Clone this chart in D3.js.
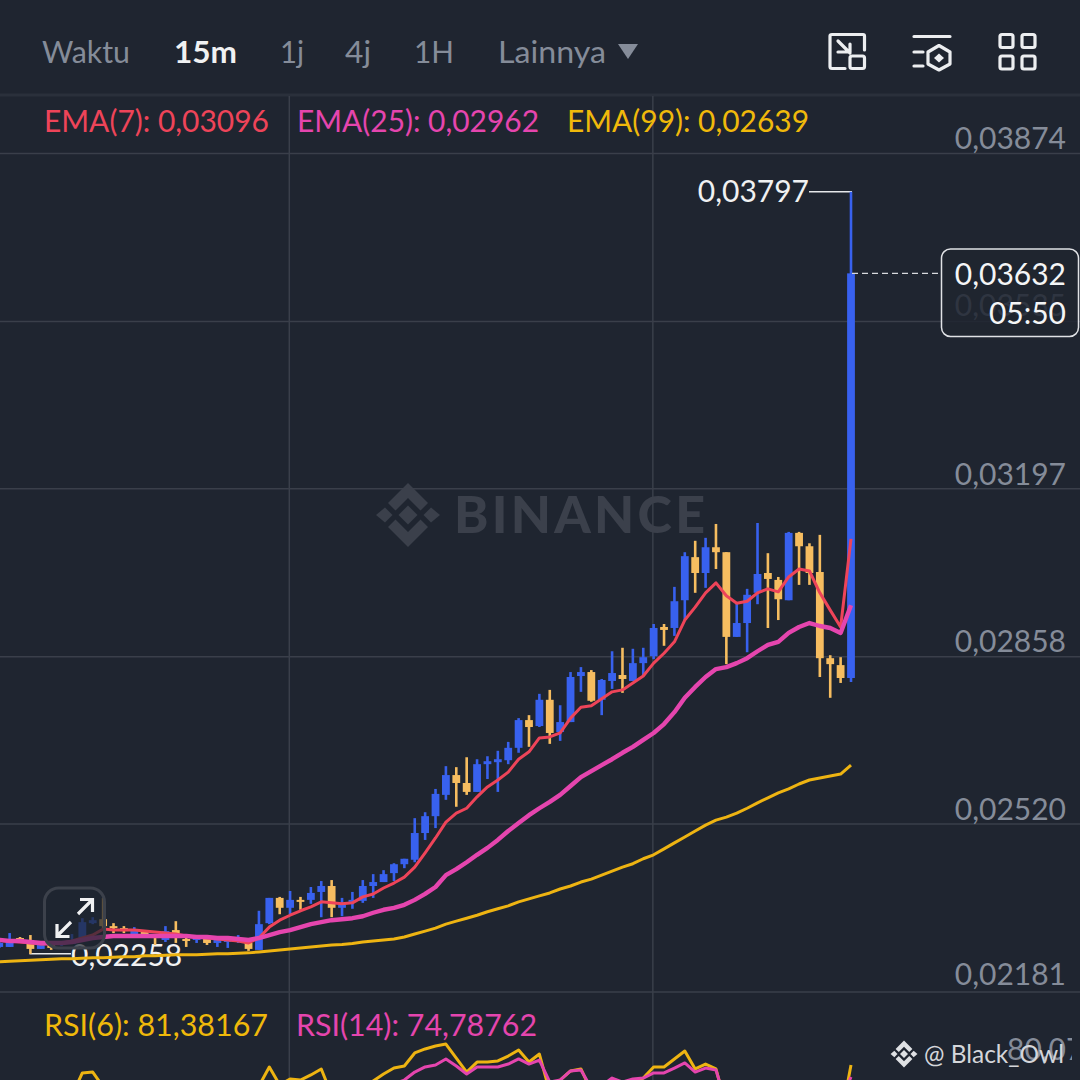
<!DOCTYPE html>
<html><head><meta charset="utf-8">
<script src="https://cdn.jsdelivr.net/npm/d3@7"></script>
<style>html,body{margin:0;padding:0;background:#1f2530}svg{display:block}text{font-family:Lato,sans-serif}</style>
</head><body><svg id="c" width="1080" height="1080"><defs><clipPath id="rc"><rect x="900" y="1030" width="172" height="50"></rect></clipPath></defs></svg>
<script>
// prices in units of 0.00001
const opens=[2272,2272,2290,2280,2268,2276,2276,2278,2290,2320,2328,2314,2310,2298,2304,2294,2286,2306,2288,2286,2288,2280,2282,2282,2280,2266,2320,2371,2351,2367,2367,2383,2395,2351,2363,2365,2395,2403,2421,2439,2448,2502,2536,2579,2619,2603,2585,2641,2645,2649,2674,2730,2718,2771,2706,2726,2819,2827,2771,2809,2821,2809,2845,2859,2918,2916,2972,3059,3027,3079,3069,2898,2926,2987,3027,3013,2972,3108,3081,3029,2855,2841,2815];
const closes=[2280,2282,2286,2268,2276,2270,2280,2286,2322,2326,2314,2310,2304,2308,2298,2290,2304,2298,2284,2292,2280,2286,2286,2288,2268,2318,2371,2351,2367,2363,2381,2395,2351,2357,2367,2395,2403,2419,2439,2450,2502,2536,2581,2619,2603,2585,2641,2647,2651,2674,2730,2716,2771,2704,2726,2817,2827,2769,2811,2825,2813,2845,2857,2916,2912,2970,3061,3027,3079,3069,2898,2926,2983,3025,3015,2974,3108,3081,3027,2855,2843,2815,3632];
const highs=[2284,2300,2292,2296,2278,2280,2284,2298,2330,2332,2371,2320,2314,2312,2306,2296,2314,2324,2296,2294,2292,2290,2290,2296,2288,2345,2371,2373,2385,2373,2393,2405,2407,2371,2383,2407,2419,2427,2441,2450,2532,2544,2591,2637,2635,2655,2651,2657,2668,2686,2734,2740,2783,2791,2760,2827,2837,2831,2813,2869,2876,2874,2876,2924,2924,2999,3069,3092,3098,3126,3069,2966,2995,3128,3067,3019,3110,3110,3087,3104,2861,2857,3797];
const lows=[2270,2272,2284,2258,2268,2266,2274,2278,2286,2318,2310,2300,2300,2296,2294,2276,2282,2280,2272,2280,2276,2272,2270,2280,2264,2266,2318,2338,2338,2347,2359,2332,2332,2334,2349,2361,2371,2403,2405,2431,2443,2488,2512,2569,2555,2579,2585,2611,2585,2641,2664,2676,2716,2682,2688,2726,2787,2767,2740,2793,2785,2809,2819,2853,2880,2900,2932,2987,2997,3035,2843,2898,2867,2964,2916,2932,2972,3003,3003,2817,2775,2805,2807];
const ema7=[2286,2284,2282,2280,2278,2278,2280,2284,2290,2296,2308,2306,2306,2306,2304,2302,2300,2298,2294,2292,2290,2288,2286,2284,2280,2290,2312,2326,2336,2345,2353,2363,2361,2359,2361,2373,2379,2391,2401,2413,2433,2462,2492,2524,2542,2552,2575,2595,2609,2625,2651,2666,2694,2696,2704,2734,2756,2759,2773,2787,2791,2805,2819,2845,2865,2888,2932,2958,2987,3007,2981,2966,2970,2987,2995,2989,3019,3035,3031,2987,2952,2918,3096];
const ema25=[2286,2284,2284,2282,2280,2280,2280,2282,2286,2290,2292,2294,2294,2294,2294,2294,2294,2294,2294,2292,2292,2290,2290,2288,2286,2290,2296,2302,2306,2312,2318,2322,2326,2328,2330,2334,2341,2347,2351,2357,2367,2379,2393,2417,2429,2443,2458,2472,2488,2506,2522,2538,2552,2565,2579,2597,2615,2627,2639,2651,2664,2676,2690,2704,2722,2746,2775,2797,2817,2833,2837,2845,2855,2869,2882,2888,2906,2918,2926,2920,2916,2906,2962];
const ema99=[2242,2243,2244,2245,2246,2247,2248,2248,2249,2250,2250,2251,2252,2252,2254,2254,2255,2256,2256,2256,2257,2258,2258,2259,2260,2262,2264,2266,2268,2270,2272,2274,2276,2277,2279,2282,2284,2286,2288,2292,2298,2304,2310,2318,2324,2330,2336,2343,2349,2355,2363,2369,2375,2381,2389,2395,2403,2409,2417,2425,2433,2440,2450,2458,2470,2482,2494,2506,2518,2528,2534,2542,2552,2563,2573,2583,2591,2601,2609,2613,2617,2621,2639];
const rsi6=[64,66,64,60,62,61,63,64.7,77,77.5,69.3,62,60,62,60,58,61,63,60,58,60,59,60,61,59,69.8,80.3,70.4,73.7,73.1,75.9,79.2,64.9,62,64,67.6,72.6,76.4,79.7,80.8,88,90.2,91.8,92.9,85.2,77.5,83,83,83.6,86.3,89.6,83,87.4,66.5,73.1,78.1,79.2,67,65,73.1,70,72,74.2,80.3,80.3,84.7,89.1,79.2,81.9,79.2,58,58,60,62,60,58,64,62,60,55,52,51,81.38];
const rsi14=[60,61,60,58,59,59,60,62,68,69,66,60,59,60,59,58,59,60,59,58,59,58,59,59,58,64,70,67,68,67,68,69,63,62,63,65,67,69,71,73.1,77.5,80.3,81.4,84.7,80.8,76.4,80.3,80.3,80.3,81.9,84.7,81.9,84.1,72,73.1,78.1,78.6,68.7,70,74.2,72,73.7,74.2,77,77,79.7,82.5,77.5,79.7,78.6,60,60,61,62,61,60,63,62,61,58,57,62,74.78];
const priceTicks=[3874,3535,3197,2858,2520,2181];
const priceLabels=["0,03874","0,03535","0,03197","0,02858","0,02520","0,02181"];
const timeTicks=[28,63];
const tabs=["Waktu","15m","1j","4j","1H","Lainnya"];
const legendMain=["EMA(7): 0,03096","EMA(25): 0,02962","EMA(99): 0,02639"];
const legendRsi=["RSI(6): 81,38167","RSI(14): 74,78762"];
const highLabel="0,03797", lowLabel="0,02258", lastPrice=3632, lastLabel="0,03632", countdown="05:50", rsiLabel="80,07", credit="@ Black_Owl", brand="BINANCE";

const BG="#1f2530",GRID="#3a3f4a",UP="#3861ee",DOWN="#f6bd60",RED="#ee4459",PINK="#e545ae",YEL="#f0b90b",GREY="#858c99";
const svg=d3.select("#c");
const x=d3.scaleLinear().domain([0,82]).range([-0.75,851]);
const y=d3.scaleLinear().domain([2181,3874]).range([992,153.5]);
const yR=d3.scaleLinear().domain([81.38,74.78]).range([1065,1077]);

svg.append("rect").attr("width",1080).attr("height",1080).attr("fill",BG);
// header
svg.append("rect").attr("x",0).attr("y",93.5).attr("width",1080).attr("height",3).attr("fill","#2a303b");
const tabX=[42,174,280,345,414,498],tabW=[88,63,24,26,40,108];
svg.selectAll(".tab").data(tabs).join("text").attr("x",(d,i)=>tabX[i]).attr("y",63).attr("font-size",31)
 .attr("font-weight",(d,i)=>i==1?700:400).attr("fill",(d,i)=>i==1?"#f0f1f2":GREY)
 .attr("textLength",(d,i)=>tabW[i]).attr("lengthAdjust","spacingAndGlyphs").text(d=>d);
svg.append("path").attr("d","M618 44H638L628 59Z").attr("fill",GREY);
// icons
const ic=svg.append("g").attr("fill","none").attr("stroke","#eceef0").attr("stroke-width",3.2).attr("stroke-linecap","round").attr("stroke-linejoin","round");
ic.append("path").attr("d","M845 68.5H832Q830 68.5 830 66.5V36Q830 34.5 832 34.5H863Q864.5 34.5 864.5 36V50");
ic.append("path").attr("d","M838 41L850 53M838 52H850V44");
ic.append("rect").attr("x",850).attr("y",56).attr("width",14.5).attr("height",12.5).attr("rx",2);
ic.append("path").attr("d","M914 36.5H950M914 52H923M914 66H923");
ic.append("path").attr("d","M939 45.5L950 52V64L939 70L928 64V52Z");
svg.append("path").attr("d","M939 53.5L944 58L939 62.5L934 58Z").attr("fill","#eceef0");
[[1000,34.5],[1022,34.5],[1000,56],[1022,56]].forEach(p=>ic.append("rect").attr("x",p[0]).attr("y",p[1]).attr("width",13).attr("height",13).attr("rx",2));
// grid
svg.selectAll(".h").data(priceTicks).join("line").attr("x1",0).attr("x2",1080).attr("y1",d=>y(d)).attr("y2",d=>y(d)).attr("stroke",GRID).attr("stroke-width",1.5);
svg.selectAll(".v").data(timeTicks).join("line").attr("x1",d=>x(d)-.8).attr("x2",d=>x(d)-.8).attr("y1",96).attr("y2",1080).attr("stroke",GRID).attr("stroke-width",1.5);
// axis labels
const labelDy=[5,5,4,5,4,7];
svg.selectAll(".pl").data(priceTicks).join("text").attr("x",1066).attr("y",(d,i)=>y(d)-labelDy[i]).attr("text-anchor","end").attr("font-size",30).attr("fill",GREY).text((d,i)=>priceLabels[i]);
// logo
function logo(g,cx,cy,s,fill,op){
 const t=g.append("g").attr("transform",`translate(${cx},${cy}) scale(${s})`).attr("fill",fill).attr("opacity",op);
 t.append("path").attr("d","M0 -9.5L9.5 0L0 9.5L-9.5 0Z");
 t.append("path").attr("d","M-23 -7.5L-15.5 0L-23 7.5L-32 0Z");
 t.append("path").attr("d","M23 -7.5L15.5 0L23 7.5L32 0Z");
 t.append("path").attr("d","M0 -32L20 -12L12.5 -4.5L0 -17L-12.5 -4.5L-20 -12Z");
 t.append("path").attr("d","M0 32L20 12L12.5 4.5L0 17L-12.5 4.5L-20 12Z");
}
logo(svg,408,515,1,"#3b404b",1);
svg.append("text").attr("x",454).attr("y",533).attr("font-size",52).attr("font-weight",900).attr("fill","#3b404b").attr("textLength",251).attr("lengthAdjust","spacing").text(brand);
// legends
const legC=[RED,PINK,YEL],legX=[44,297,567],legW=[225,242,242];
svg.selectAll(".lg").data(legendMain).join("text").attr("x",(d,i)=>legX[i]).attr("y",132).attr("font-size",30).attr("fill",(d,i)=>legC[i]).attr("textLength",(d,i)=>legW[i]).attr("lengthAdjust","spacingAndGlyphs").text(d=>d);
const rC=[YEL,PINK],rX=[44,296],rW=[224,241];
svg.selectAll(".lr").data(legendRsi).join("text").attr("x",(d,i)=>rX[i]).attr("y",1036).attr("font-size",30).attr("fill",(d,i)=>rC[i]).attr("textLength",(d,i)=>rW[i]).attr("lengthAdjust","spacingAndGlyphs").text(d=>d);
// hi/lo markers below EMA lines
const hiI=82, loI=3;
svg.append("line").attr("x1",x(loI)-1).attr("x2",71).attr("y1",y(2258)).attr("y2",y(2258)).attr("stroke","#e6e8ea").attr("stroke-width",1.5);
svg.append("text").attr("x",71).attr("y",966).attr("font-size",30).attr("fill","#f0f1f2").text(lowLabel);
svg.append("line").attr("x1",809).attr("x2",x(hiI)+1).attr("y1",y(3797)).attr("y2",y(3797)).attr("stroke","#e6e8ea").attr("stroke-width",1.5);
svg.append("text").attr("x",809).attr("y",202).attr("text-anchor","end").attr("font-size",30).attr("fill","#f0f1f2").text(highLabel);
// candles
const cg=svg.append("g");
opens.forEach((o,i)=>{
 const c=closes[i],col=c>=o?UP:DOWN,cx=x(i);
 cg.append("line").attr("x1",cx).attr("x2",cx).attr("y1",y(highs[i])).attr("y2",y(lows[i])).attr("stroke",col).attr("stroke-width",2.6);
 cg.append("rect").attr("x",cx-3.9).attr("width",7.8).attr("y",y(Math.max(o,c))).attr("height",Math.max(2,Math.abs(y(o)-y(c)))).attr("fill",col);
});
// EMAs
const ln=d3.line().x((d,i)=>x(i)).y(d=>y(d));
[[ema99,"#eeb412",3],[ema7,RED,3],[ema25,PINK,4.4]].forEach(a=>svg.append("path").attr("d",ln(a[0])).attr("fill","none").attr("stroke",a[1]).attr("stroke-width",a[2]).attr("stroke-linejoin","round"));
// RSI
const lr=d3.line().x((d,i)=>x(i)).y(d=>yR(d));
[[rsi6,"#eeb412"],[rsi14,PINK]].forEach(a=>svg.append("path").attr("d",lr(a[0])).attr("fill","none").attr("stroke",a[1]).attr("stroke-width",3).attr("stroke-linejoin","round"));
svg.append("text").attr("x",1007).attr("y",1060).attr("font-size",30).attr("fill",GREY).attr("clip-path","url(#rc)").text(rsiLabel);
// last price
svg.append("line").attr("x1",x(82)+1).attr("x2",941).attr("y1",y(lastPrice)).attr("y2",y(lastPrice)).attr("stroke","#d8dade").attr("stroke-width",1.4).attr("stroke-dasharray","6 4");
svg.append("rect").attr("x",941.5).attr("y",249).attr("width",137).attr("height",87.5).attr("rx",9).attr("fill",BG).attr("fill-opacity",.84).attr("stroke","#e0e2e5").attr("stroke-width",1.5);
svg.append("text").attr("x",1066).attr("y",285).attr("text-anchor","end").attr("font-size",30).attr("fill","#f4f5f6").text(lastLabel);
svg.append("text").attr("x",1066).attr("y",324).attr("text-anchor","end").attr("font-size",30).attr("fill","#f4f5f6").text(countdown);
// expand button
svg.append("rect").attr("x",44.5).attr("y",888).attr("width",60).attr("height",60).attr("rx",14).attr("fill",BG).attr("fill-opacity",.72).attr("stroke","#3c414b").attr("stroke-width",3);
svg.append("path").attr("d","M78 914L92 900M80 899.5H92.5V912M71 922L57 936M57 924V936.5H69.5").attr("fill","none").attr("stroke","#f0f1f2").attr("stroke-width",3.2);
// credit watermark
logo(svg,904,1054,.42,"#dfe1e4",1);
svg.append("text").attr("x",924).attr("y",1063).attr("font-size",25).attr("font-family","'Open Sans'").attr("fill","#d4d6da").attr("textLength",140).attr("lengthAdjust","spacingAndGlyphs").text(credit);
</script></body></html>
